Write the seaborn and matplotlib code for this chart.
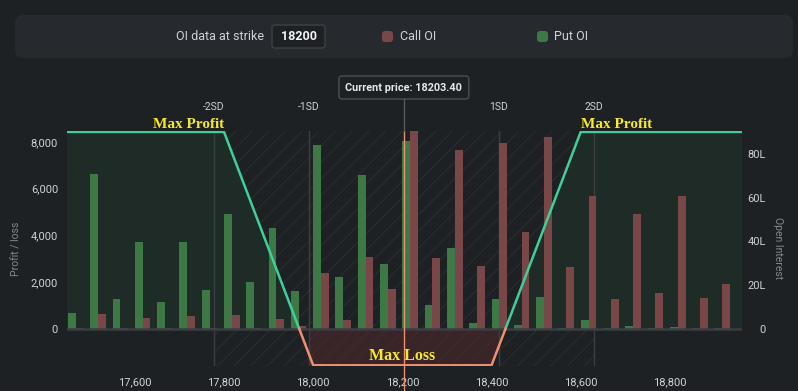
import numpy as np
import pandas as pd
import matplotlib.pyplot as plt
import seaborn as sns
from matplotlib.patches import FancyBboxPatch
from matplotlib.transforms import IdentityTransform

# Strikes and open interest (in lakhs)
strikes = [17450, 17500, 17550, 17600, 17650, 17700, 17750, 17800, 17850, 17900,
           17950, 18000, 18050, 18100, 18150, 18200, 18250, 18300, 18350, 18400,
           18450, 18500, 18550, 18600, 18650, 18700, 18750, 18800, 18850, 18900]
put_oi = [7.3, 70.8, 13.8, 39.6, 12.0, 39.5, 17.6, 52.5, 21.3, 46.0,
          17.2, 84.2, 23.5, 70.4, 29.5, 86.0, 10.8, 36.9, 2.6, 13.5,
          1.7, 14.4, 0.3, 4.0, 0.2, 1.1, 0.3, 0.8, 0.2, 0.2]
call_oi = [0.3, 6.7, 0.5, 4.7, 0.4, 5.6, 0.4, 6.1, 0.4, 4.6,
           1.2, 25.4, 4.0, 33.0, 18.1, 91.0, 32.3, 81.8, 28.5, 85.2,
           44.3, 87.9, 28.2, 60.7, 13.5, 52.7, 16.2, 60.6, 14.1, 20.5]

# Strategy payoff breakpoints
payoff_x = [17448, 17800, 18000, 18400, 18600, 18962]
payoff_y = [8430, 8430, -1570, -1570, 8430, 8430]

spot = 18203.40
sd_names = ["-2SD", "-1SD", "1SD", "2SD"]
sd_values = [17777, 17990, 18416, 18629]

xtick_vals = [17600, 17800, 18000, 18200, 18400, 18600, 18800]
pl_ticks = [0, 2000, 4000, 6000, 8000]
oi_ticks = [0, 20, 40, 60, 80]

BG = "#1e2124"
PANEL = "#26292d"
TXT = "#cfd2d6"
MUTED = "#85898e"
GRID = "#3a3e43"
PUT_C = "#3f7847"
CALL_C = "#7a4749"
LINE_G = "#3fd09a"
LINE_R = "#ef8f72"
YELLOW = "#f7e92a"

plt.rcParams["font.family"] = ["Roboto", "DejaVu Sans"]

fig = plt.figure(figsize=(7.98, 3.91), dpi=100, facecolor=BG)
ax = fig.add_axes([0.084, 0.064, 0.846, 0.601])
ax.set_facecolor(BG)
ax_oi = ax.twinx()
ax_pl = ax.twinx()

# payoff on dense grid, split at zero crossings
xs = np.union1d(np.linspace(payoff_x[0], payoff_x[-1], 1500), payoff_x)
ys = np.interp(xs, payoff_x, payoff_y)
rows = []
seg = 0
for i in range(len(xs)):
    side = "profit" if ys[i] >= 0 else "loss"
    if i > 0 and (ys[i - 1] >= 0) != (ys[i] >= 0):
        x0 = xs[i - 1] + (xs[i] - xs[i - 1]) * ys[i - 1] / (ys[i - 1] - ys[i])
        prev = "profit" if ys[i - 1] >= 0 else "loss"
        rows.append((x0, 0.0, seg, prev))
        seg += 1
        rows.append((x0, 0.0, seg, side))
    rows.append((xs[i], ys[i], seg, side))
pl_df = pd.DataFrame(rows, columns=["x", "y", "seg", "side"])

# background: hatch band, profit / loss fills, SD lines
ax.axvspan(sd_values[0], sd_values[-1], facecolor="none", edgecolor="#272a2e",
           hatch="//", lw=0, zorder=0.5)
ax.fill_between(xs, 0, ys, where=ys >= 0, interpolate=True, color="#1f2b27", lw=0, zorder=1)
loss_band = (ys <= 0) & (xs >= sd_values[1]) & (xs <= sd_values[2])
ax.fill_between(xs, ys, 0, where=loss_band, color="#5a2a2d", alpha=0.45, lw=0, zorder=1)
for name, v in zip(sd_names, sd_values):
    ax.axvline(v, color=GRID, lw=1, zorder=2)
    ax.text(v, 1.1, name, transform=ax.get_xaxis_transform(), ha="center", va="center",
            fontsize=7.5, color=TXT)

# OI bars
oi_df = pd.DataFrame({
    "strike": strikes * 2,
    "oi": put_oi + call_oi,
    "side": ["Put OI"] * len(strikes) + ["Call OI"] * len(strikes),
})
oi_df["pos"] = oi_df["strike"] + 17.5
sns.barplot(data=oi_df, x="pos", y="oi", hue="side", hue_order=["Put OI", "Call OI"],
            palette={"Put OI": PUT_C, "Call OI": CALL_C}, native_scale=True, width=0.7,
            saturation=1, errorbar=None, linewidth=0, legend=False, ax=ax_oi)

# payoff line
ax_pl.axhline(0, color=GRID, lw=1.8, zorder=1)
sns.lineplot(data=pl_df, x="x", y="y", hue="side", units="seg", estimator=None, sort=False,
             palette={"profit": LINE_G, "loss": LINE_R}, legend=False, lw=1.8, ax=ax_pl, zorder=3)

ax_pl.annotate("Max Profit", (payoff_x[1], payoff_y[1]), xytext=(0, 0.5), textcoords="offset points",
               ha="right", va="bottom", color=YELLOW, fontsize=11, fontweight="bold",
               family="Liberation Serif", annotation_clip=False)
ax_pl.annotate("Max Profit", (payoff_x[4], payoff_y[4]), xytext=(0, 0.5), textcoords="offset points",
               ha="left", va="bottom", color=YELLOW, fontsize=11, fontweight="bold",
               family="Liberation Serif", annotation_clip=False)
ax_pl.annotate("Max Loss", ((payoff_x[2] + payoff_x[3]) / 2, payoff_y[2]), xytext=(0, 1),
               textcoords="offset points", ha="center", va="bottom", color=YELLOW,
               fontsize=11.5, fontweight="bold", family="Liberation Serif")

# current price marker
ax_pl.axvline(spot, ymin=-0.106, ymax=1.0, color=LINE_R, lw=1, clip_on=False, zorder=4)
ax_pl.axvline(spot, ymin=1.0, ymax=1.137, color="#55595e", lw=1, clip_on=False, zorder=4)
ax_pl.text(spot, 1.185, f"Current price: {spot:.2f}", transform=ax_pl.get_xaxis_transform(),
           ha="center", va="center", fontsize=7.8, fontweight="bold", color="#e6e8ea",
           bbox=dict(boxstyle="round,pad=0.6,rounding_size=0.3", fc=BG, ec="#4a4e53", lw=1))

# axes limits / ticks
pl_lim = (-1600, 8470)
ax.set_ylim(pl_lim)
ax_pl.set_ylim(pl_lim)
ax_oi.set_ylim(-17.1, 90.6)
ax.set_xlim(payoff_x[0], payoff_x[-1])

ax.set_xticks(xtick_vals)
ax.set_xticklabels([f"{v:,}" for v in xtick_vals])
ax.set_yticks(pl_ticks)
ax.set_yticklabels([f"{v:,}" for v in pl_ticks])
ax.tick_params(axis="x", length=0, pad=8, labelsize=8, labelcolor=TXT)
ax.tick_params(axis="y", length=0, pad=6.5, labelsize=8, labelcolor=TXT)
ax.set_xlabel("")
ax.set_ylabel("Profit / loss", color=MUTED, fontsize=7.5)
ax.yaxis.set_label_coords(-0.067, 0.5)

ax_oi.set_yticks(oi_ticks)
ax_oi.set_yticklabels(["0" if v == 0 else f"{v}L" for v in oi_ticks])
ax_oi.tick_params(axis="y", length=0, pad=17, labelsize=8, labelcolor=TXT)
for lab in ax_oi.get_yticklabels():
    lab.set_horizontalalignment("right")
ax_oi.set_ylabel("Open Interest", color=MUTED, fontsize=7.5, rotation=-90, va="center")
ax_oi.yaxis.set_label_coords(1.053, 0.5)
ax_oi.set_xlabel("")

ax_pl.set_yticks([])
ax_pl.set_ylabel("")
ax_pl.set_xlabel("")
for a in (ax, ax_oi, ax_pl):
    for s in a.spines.values():
        s.set_visible(False)

# top control bar (pixel coordinates, origin bottom-left)
H = 391
ident = IdentityTransform()


def px_box(x0, y0, x1, y1, r, **kw):
    p = FancyBboxPatch((x0, H - y1), x1 - x0, y1 - y0,
                       boxstyle=f"round,pad=0,rounding_size={r}", transform=ident, **kw)
    fig.patches.append(p)


px_box(15, 15, 793, 58, 8, fc=PANEL, ec="none")
px_box(272, 25, 325, 48, 3, fc=BG, ec="#3d4146", lw=1)
px_box(382, 31, 393, 42, 3, fc=CALL_C, ec="none")
px_box(537, 31, 548, 42, 3, fc=PUT_C, ec="none")
fig.text(264 / 798, 1 - 36.5 / H, "OI data at strike", ha="right", va="center",
         fontsize=9, color=TXT)
fig.text(298.5 / 798, 1 - 36.5 / H, "18200", ha="center", va="center",
         fontsize=9, fontweight="bold", color="#f2f3f5")
fig.text(400 / 798, 1 - 36.5 / H, "Call OI", ha="left", va="center", fontsize=9, color=TXT)
fig.text(554 / 798, 1 - 36.5 / H, "Put OI", ha="left", va="center", fontsize=9, color=TXT)

fig.savefig("out.png", dpi=100, facecolor=BG)
